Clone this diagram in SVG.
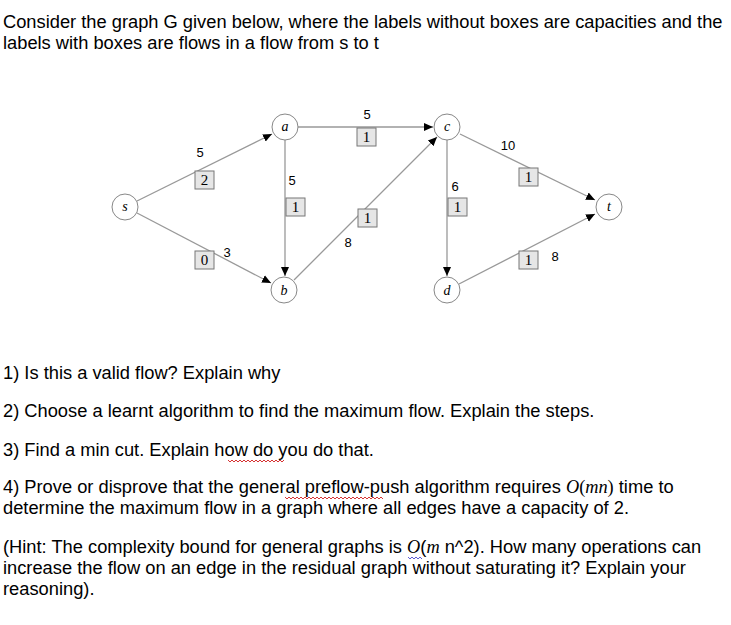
<svg xmlns="http://www.w3.org/2000/svg" width="731" height="625" viewBox="0 0 731 625">
<style>
.t{font-family:"Liberation Sans",Arial,sans-serif;font-size:18.3px;fill:#000}
.n{fill:#fff;stroke:#888;stroke-width:1}
.nl{font-family:"Liberation Serif",serif;font-style:italic;font-size:14px;text-anchor:middle}
.e{stroke:#999;stroke-width:1.3;fill:none}
.b{fill:#e6e6e6;stroke:#777;stroke-width:1}
.bl{font-family:"Liberation Serif",serif;font-size:15px;text-anchor:middle}
.c{font-family:"Liberation Sans",Arial,sans-serif;font-size:13px;text-anchor:middle}
.w{fill:none;stroke-width:0.8}
</style>
<defs><marker id="ar" markerWidth="10" markerHeight="10" refX="9" refY="5" orient="auto" markerUnits="userSpaceOnUse"><path d="M0,1 L9,5 L0,9 Z" fill="#000"/></marker></defs>
<rect width="731" height="625" fill="#fff"/>
<text class="t" x="3" y="28">Consider the graph G given below, where the labels without boxes are capacities and the</text>
<text class="t" x="3" y="49">labels with boxes are flows in a flow from s to t</text>
<g id="connectors">
<line class="e" x1="137" y1="201" x2="272" y2="134" marker-end="url(#ar)"/>
<line class="e" x1="137" y1="213" x2="271" y2="283" marker-end="url(#ar)"/>
<line class="e" x1="285" y1="140" x2="285" y2="276" marker-end="url(#ar)"/>
<line class="e" x1="298" y1="127" x2="433" y2="127" marker-end="url(#ar)"/>
<line class="e" x1="294" y1="280" x2="437" y2="137" marker-end="url(#ar)"/>
<line class="e" x1="447" y1="140" x2="447" y2="276" marker-end="url(#ar)"/>
<line class="e" x1="460" y1="134" x2="595" y2="200" marker-end="url(#ar)"/>
<line class="e" x1="459" y1="284" x2="595" y2="214" marker-end="url(#ar)"/>
</g>
<g id="s"><circle class="n" cx="125" cy="207" r="13"/><text class="nl" x="125" y="211">s</text></g>
<g id="a"><circle class="n" cx="285" cy="127" r="13"/><text class="nl" x="285" y="131">a</text></g>
<g id="b"><circle class="n" cx="284" cy="290" r="13"/><text class="nl" x="284" y="295">b</text></g>
<g id="c"><circle class="n" cx="447" cy="127" r="13"/><text class="nl" x="447" y="131">c</text></g>
<g id="d"><circle class="n" cx="447" cy="290" r="13"/><text class="nl" x="447" y="295">d</text></g>
<g id="t"><circle class="n" cx="609" cy="207" r="13"/><text class="nl" x="609" y="211">t</text></g>
<g id="flows">
<rect class="b" x="195" y="171" width="19" height="18"/><text class="bl" x="204.5" y="185">2</text>
<rect class="b" x="195" y="251" width="19" height="18"/><text class="bl" x="204.5" y="265">0</text>
<rect class="b" x="286" y="198" width="19" height="18"/><text class="bl" x="295.5" y="212">1</text>
<rect class="b" x="357" y="128" width="19" height="18"/><text class="bl" x="366.5" y="142">1</text>
<rect class="b" x="358" y="209" width="19" height="18"/><text class="bl" x="367.5" y="223">1</text>
<rect class="b" x="448" y="198" width="19" height="18"/><text class="bl" x="457.5" y="212">1</text>
<rect class="b" x="519" y="168" width="19" height="18"/><text class="bl" x="528.5" y="182">1</text>
<rect class="b" x="519" y="251" width="19" height="18"/><text class="bl" x="528.5" y="265">1</text>
</g>
<g id="caps">
<text class="c" x="200" y="157">5</text>
<text class="c" x="227" y="257">3</text>
<text class="c" x="292" y="185">5</text>
<text class="c" x="367" y="119">5</text>
<text class="c" x="348" y="247">8</text>
<text class="c" x="455" y="191">6</text>
<text class="c" x="508" y="150">10</text>
<text class="c" x="555" y="261">8</text>
</g>
<text class="t" x="3" y="379">1) Is this a valid flow? Explain why</text>
<text class="t" x="3" y="417">2) Choose a learnt algorithm to find the maximum flow. Explain the steps.</text>
<text class="t" x="3" y="456">3) Find a min cut. Explain how do you do that.</text>
<text class="t" x="3" y="493">4) Prove or disprove that the general preflow-push algorithm requires <tspan font-family="Liberation Serif" font-style="italic">O</tspan><tspan font-family="Liberation Serif">(</tspan><tspan font-family="Liberation Serif" font-style="italic">mn</tspan><tspan font-family="Liberation Serif">)</tspan> time to</text>
<text class="t" x="3" y="514">determine the maximum flow in a graph where all edges have a capacity of 2.</text>
<text class="t" x="3" y="553">(Hint: The complexity bound for general graphs is <tspan font-family="Liberation Serif" font-style="italic">O</tspan>(<tspan font-family="Liberation Serif" font-style="italic">m</tspan> n^2). How many operations can</text>
<text class="t" x="3" y="574">increase the flow on an edge in the residual graph without saturating it? Explain your</text>
<text class="t" x="3" y="595">reasoning).</text>
<path class="w" stroke="#c00" d="M228,460 l2,2 2,-2 2,2 2,-2 2,2 2,-2 2,2 2,-2 2,2 2,-2 2,2 2,-2 2,2 2,-2 2,2 2,-2 2,2 2,-2 2,2 2,-2 2,2 2,-2 2,2 2,-2 2,2 2,-2 2,2 2,-2"/>
<path class="w" stroke="#c00" d="M285,497 l2,2 2,-2 2,2 2,-2 2,2 2,-2 2,2 2,-2 2,2 2,-2 2,2 2,-2 2,2 2,-2 2,2 2,-2 2,2 2,-2 2,2 2,-2 2,2 2,-2 2,2 2,-2 2,2 2,-2 2,2 2,-2 2,2 2,-2 2,2 2,-2 2,2 2,-2 2,2 2,-2 2,2 2,-2 2,2 2,-2 2,2 2,-2 2,2 2,-2 2,2 2,-2 2,2 2,-2 2,2"/>
<path class="w" stroke="#33c" d="M408,557 l2,2 2,-2 2,2 2,-2 2,2 2,-2 2,2"/>
</svg>
